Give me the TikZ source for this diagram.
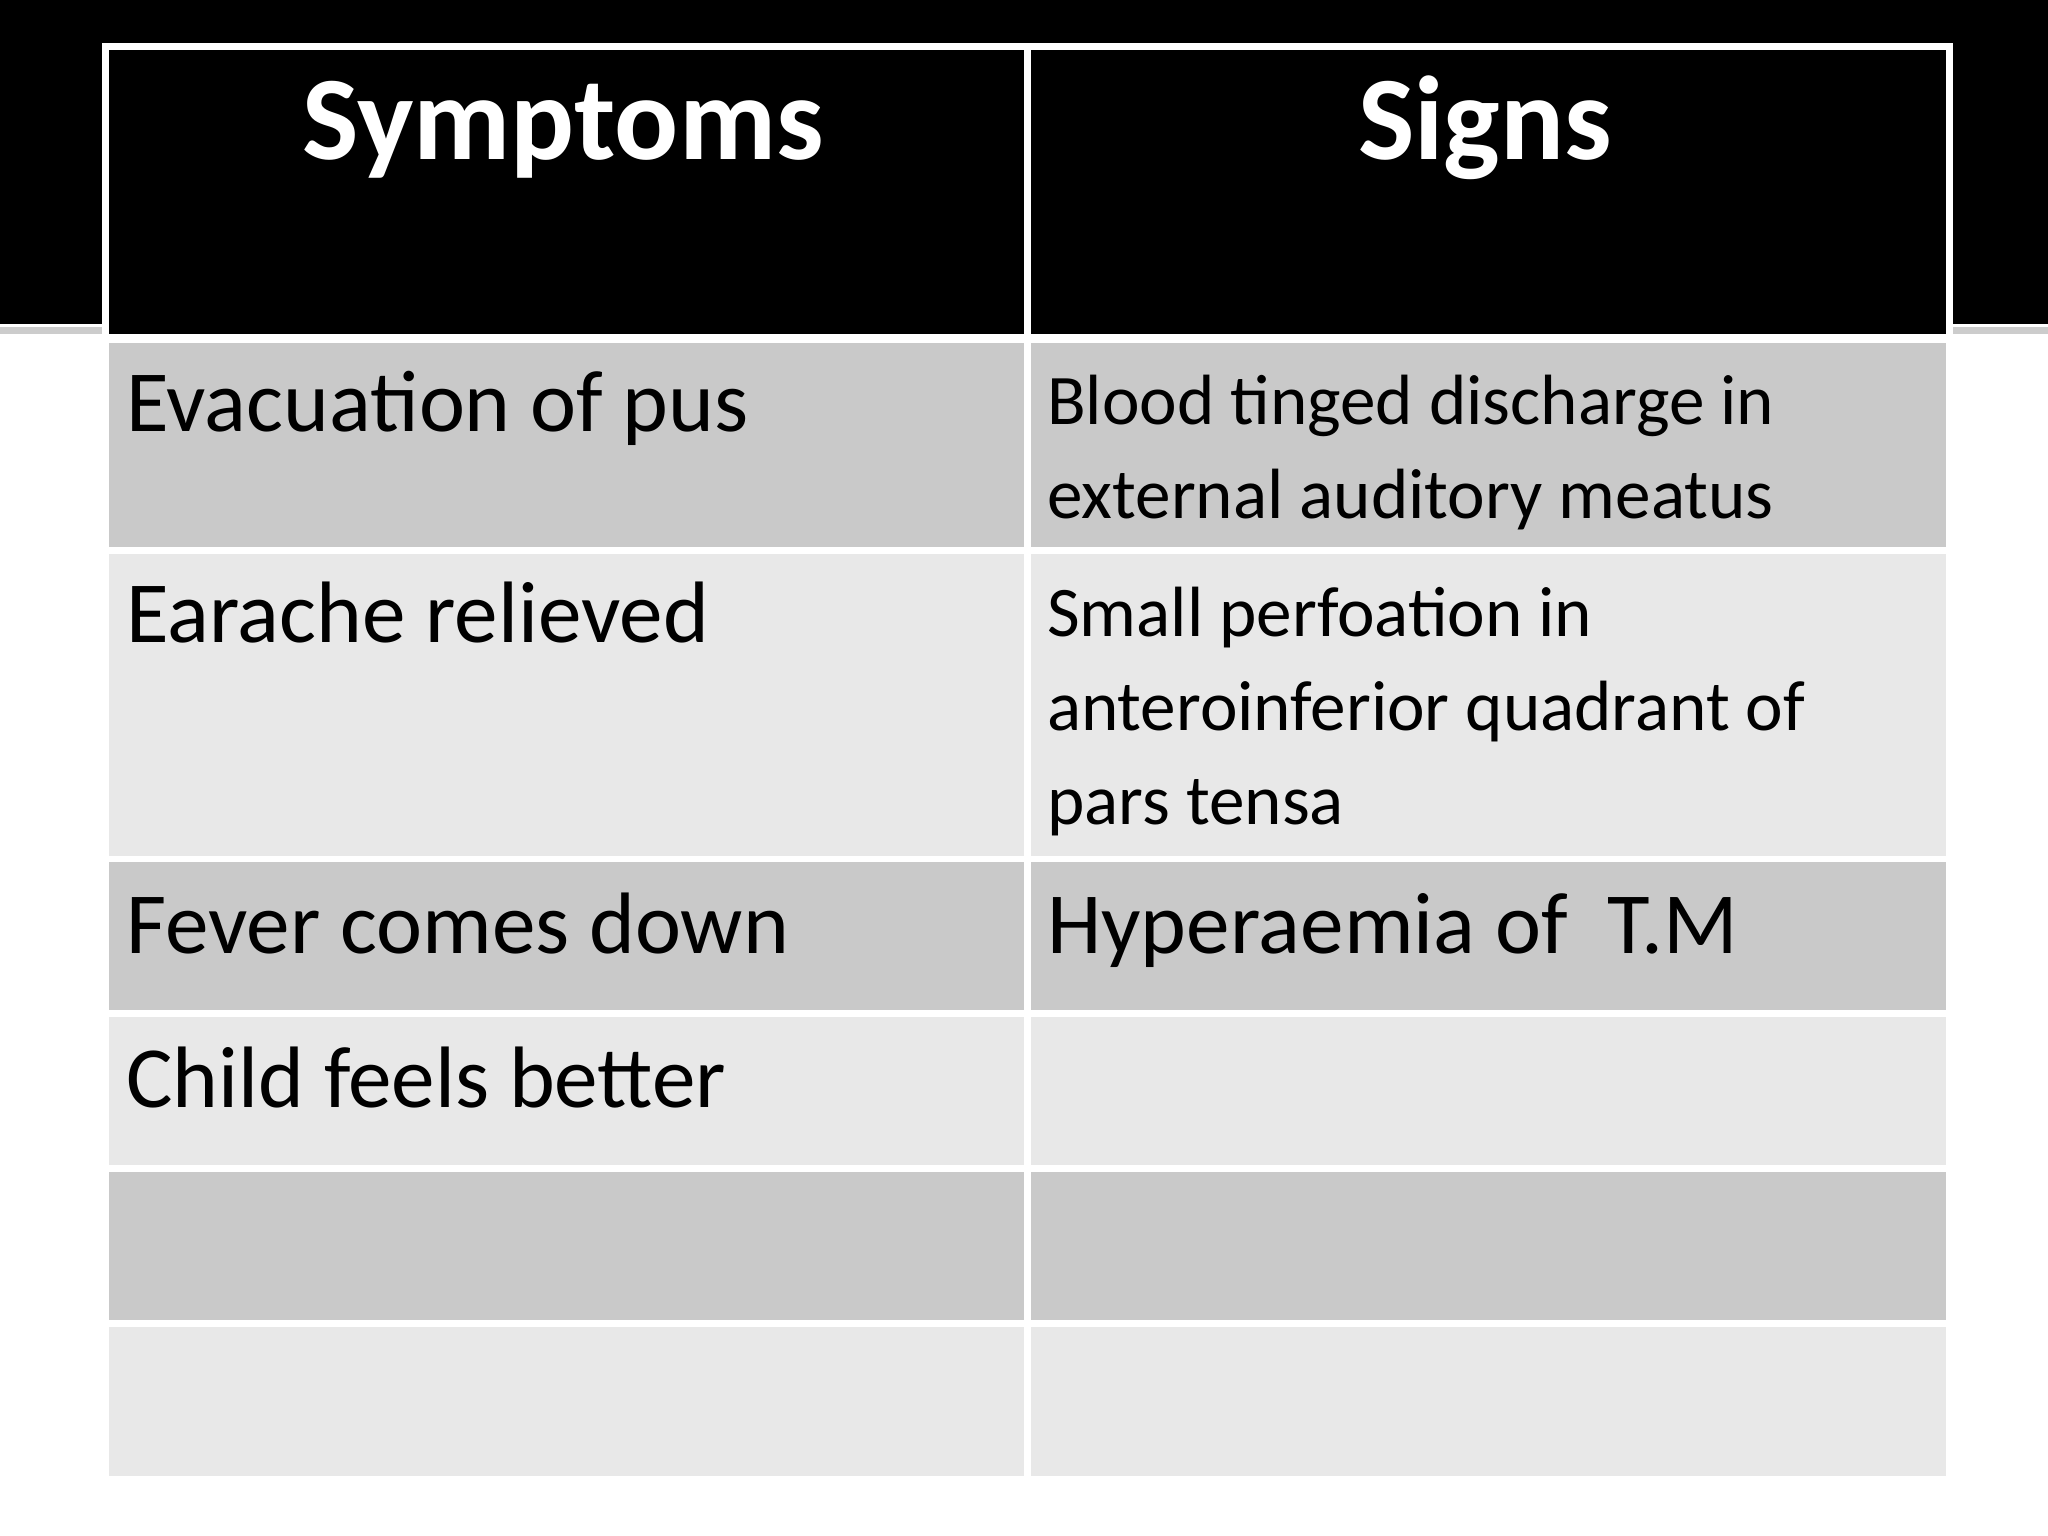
\documentclass[tikz,border=0pt]{standalone}
\usepackage{fontspec}
\setmainfont{Carlito}
\usetikzlibrary{positioning}
\definecolor{rowdark}{HTML}{C9C9C9}
\definecolor{rowlight}{HTML}{E8E8E8}
\tikzset{
  cell/.style={draw=white, line width=1.5pt, anchor=north west, minimum width=7.06cm, inner sep=0pt},
  head/.style={text=white, font=\fontsize{26}{30}\selectfont\bfseries},
  big/.style={anchor=base west, inner sep=0pt, font=\fontsize{19}{23}\selectfont},
  small/.style={anchor=base west, inner sep=0pt, align=left, font=\fontsize{15.5}{20.5}\selectfont}
}
\begin{document}
\begin{tikzpicture}
\useasboundingbox (0,0) rectangle (15.68,-11.76);
\fill[black] (0,0) rectangle (15.68,-2.48);
\fill[gray!40] (0,-2.50) rectangle (15.68,-2.56);
% header
\node[cell, fill=black, minimum height=2.23cm] (h1) at (0.78,-0.33) {};
\node[cell, fill=black, minimum height=2.23cm] (h2) at (7.84,-0.33) {};
\node[head, anchor=base] (th1) at (4.31,-1.22) {Symptoms};
\node[head, anchor=base] (th2) at (11.37,-1.22) {Signs};
% rows
\node[cell, fill=rowdark, minimum height=1.62cm] (a1) at (0.78,-2.57) {};
\node[cell, fill=rowdark, minimum height=1.62cm] (b1) at (7.84,-2.57) {};
\node[cell, fill=rowlight, minimum height=2.36cm] (a2) at (0.78,-4.19) {};
\node[cell, fill=rowlight, minimum height=2.36cm] (b2) at (7.84,-4.19) {};
\node[cell, fill=rowdark, minimum height=1.18cm] (a3) at (0.78,-6.55) {};
\node[cell, fill=rowdark, minimum height=1.18cm] (b3) at (7.84,-6.55) {};
\node[cell, fill=rowlight, minimum height=1.19cm] (a4) at (0.78,-7.73) {};
\node[cell, fill=rowlight, minimum height=1.19cm] (b4) at (7.84,-7.73) {};
\node[cell, fill=rowdark, minimum height=1.19cm] (a5) at (0.78,-8.92) {};
\node[cell, fill=rowdark, minimum height=1.19cm] (b5) at (7.84,-8.92) {};
\node[cell, fill=rowlight, minimum height=1.19cm] (a6) at (0.78,-10.11) {};
\node[cell, fill=rowlight, minimum height=1.19cm] (b6) at (7.84,-10.11) {};
% texts
\node[big] (t1) at (0.96,-3.30) {Evacuation of pus};
\node[big] (t2) at (0.96,-4.92) {Earache relieved};
\node[big] (t3) at (0.96,-7.30) {Fever comes down};
\node[big] (t4) at (0.96,-8.48) {Child feels better};
\node[small] (s1) at (8.01,-3.25) {Blood tinged discharge in};
\node[small] (s1b) at (8.01,-3.97) {external auditory meatus};
\node[small] (s2) at (8.01,-4.87) {Small perfoation in};
\node[small] (s2b) at (8.01,-5.59) {anteroinferior quadrant of};
\node[small] (s2c) at (8.01,-6.31) {pars tensa};
\node[big] (s3) at (8.01,-7.30) {Hyperaemia of \ T.M};
\end{tikzpicture}
\end{document}
